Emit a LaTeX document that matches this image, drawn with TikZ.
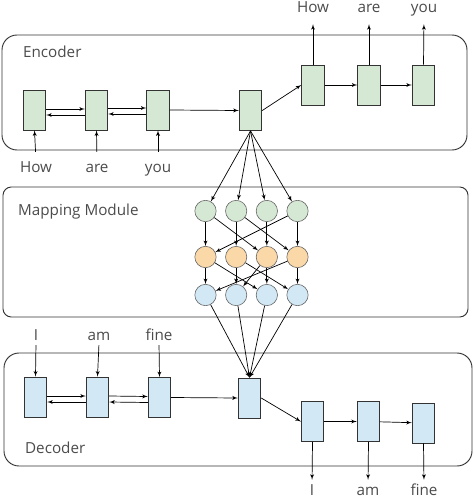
\documentclass[tikz,border=0pt]{standalone}
\usepackage{fontspec}
\setmainfont{Open Sans}
\usetikzlibrary{arrows}
\definecolor{encfill}{RGB}{213,232,212}
\definecolor{decfill}{RGB}{210,232,244}
\definecolor{midfill}{RGB}{250,216,168}
\definecolor{txt}{RGB}{75,75,75}
\tikzset{
		panel/.style={draw=black!80, line width=0.8pt},
		title/.style={anchor=west, text=txt, font=\fontsize{13}{15}\selectfont},
		word/.style={text=txt, font=\fontsize{13}{15}\selectfont, inner sep=0pt, text height=3.3mm, text depth=0.9mm, anchor=base},
		cell/.style={draw=black!80, line width=0.7pt, minimum width=6.8mm, minimum height=12mm, inner sep=0pt},
		enccell/.style={cell, fill=encfill},
		deccell/.style={cell, fill=decfill},
		unit/.style={circle, draw=black!60, line width=0.5pt, minimum size=6.4mm, inner sep=0pt},
		link/.style={->, line width=0.6pt}
	}
\begin{document}
\begin{tikzpicture}[x=0.3mm, y=-0.3mm, >=latex', node distance=9.2mm]
	\useasboundingbox (0,0) rectangle (474,497);

	% panels
	\draw[panel, rounded corners=4.5mm] (2,35) rectangle (467,150);
	\draw[panel, rounded corners=2.5mm] (3,187) rectangle (468,317);
	\draw[panel, rounded corners=4.5mm] (4,353) rectangle (472,466);
	\node[title] (enctitle) at (19,52)  {Encoder};
	\node[title] (maptitle) at (14,212) {Mapping Module};
	\node[title] (dectitle) at (21,448) {Decoder};

	% encoder
	\node[enccell] (e1) at (34.5,110) {};
	\node[enccell] (e2) at (96.5,110) {};
	\node[enccell] (e3) at (158,110)  {};
	\node[enccell] (e4) at (250.5,110.5) {};
	\node[enccell] (e5) at (313,85) {};
	\node[enccell] (e6) at (369,85) {};
	\node[enccell] (e7) at (423.5,85) {};

	\node[word] (ein1) at (36,172)  {How};
	\node[word] (ein2) at (97,172)  {are};
	\node[word] (ein3) at (158,172) {you};
	\node[word] (eout1) at (313,13) {How};
	\node[word] (eout2) at (369,13) {are};
	\node[word] (eout3) at (424,13) {you};

	\draw[link, shorten <=2.7mm] (ein1.north) -- (e1.south);
	\draw[link, shorten <=2.7mm] (ein2.north) -- (e2.south);
	\draw[link, shorten <=2.7mm] (ein3.north) -- (e3.south);
	\draw[link, shorten >=2.4mm] (e5.north) -- (eout1.south);
	\draw[link, shorten >=2.4mm] (e6.north) -- (eout2.south);
	\draw[link, shorten >=2.4mm] (e7.north) -- (eout3.south);

	\draw[link] ([yshift=0.3mm]e1.east) -- ([yshift=0.3mm]e2.west);
	\draw[link] ([yshift=-1.5mm]e2.west) -- ([yshift=-1.5mm]e1.east);
	\draw[link] ([yshift=0.6mm]e2.east) -- ([yshift=0.6mm]e3.west);
	\draw[link] ([yshift=-1.2mm]e3.west) -- ([yshift=-1.2mm]e2.east);
	\draw[link] (e3.east) -- (e4.west);
	\draw[link] (e4.east) -- (e5.west);
	\draw[link] (e5) -- (e6);
	\draw[link] (e6) -- (e7);

	% decoder
	\node[deccell] (d1) at (35.5,397) {};
	\node[deccell] (d2) at (97.5,397) {};
	\node[deccell] (d3) at (159.5,397.5) {};
	\node[deccell] (d4) at (249.5,398) {};
	\node[deccell] (d5) at (312.5,421.5) {};
	\node[deccell] (d6) at (368.5,421.5) {};
	\node[deccell] (d7) at (423.5,423) {};

	\node[word] (din1) at (36,340)  {I};
	\node[word] (din2) at (99,340)  {am};
	\node[word] (din3) at (159,340) {fine};
	\node[word] (dout1) at (312,495) {I};
	\node[word] (dout2) at (368,495) {am};
	\node[word] (dout3) at (424,495) {fine};

	\draw[link, shorten <=0.6mm] (din1.south) -- (d1.north);
	\draw[link, shorten <=0.6mm] (din2.south) -- (d2.north);
	\draw[link, shorten <=0.6mm] (din3.south) -- (d3.north);
	\draw[link, shorten >=1.2mm] (d5.south) -- (dout1.north);
	\draw[link, shorten >=1.2mm] (d6.south) -- (dout2.north);
	\draw[link, shorten >=1.2mm] (d7.south) -- (dout3.north);

	\draw[link] ([yshift=0.3mm]d1.east) -- ([yshift=0.3mm]d2.west);
	\draw[link] ([yshift=-1.5mm]d2.west) -- ([yshift=-1.5mm]d1.east);
	\draw[link] ([yshift=0.3mm]d2.east) -- ([yshift=0.3mm]d3.west);
	\draw[link] ([yshift=-1.5mm]d3.west) -- ([yshift=-1.5mm]d2.east);
	\draw[link] (d3.east) -- (d4.west);
	\draw[link] (d4.east) -- (d5.west);
	\draw[link] (d5) -- (d6);
	\draw[link] (d6) -- (d7);

	% mapping module
	\node[unit, fill=encfill] (g1) at (205.5,211) {};
	\node[unit, fill=encfill, right of=g1] (g2) {};
	\node[unit, fill=encfill, right of=g2] (g3) {};
	\node[unit, fill=encfill, right of=g3] (g4) {};
	\node[unit, fill=midfill, below of=g1, node distance=13.8mm] (o1) {};
	\node[unit, fill=midfill, right of=o1] (o2) {};
	\node[unit, fill=midfill, right of=o2] (o3) {};
	\node[unit, fill=midfill, right of=o3] (o4) {};
	\node[unit, fill=decfill, below of=o1, node distance=11.4mm] (b1) {};
	\node[unit, fill=decfill, right of=b1] (b2) {};
	\node[unit, fill=decfill, right of=b2] (b3) {};
	\node[unit, fill=decfill, right of=b3] (b4) {};

	\foreach \i in {1,...,4} {
		\draw[link] (e4.south) -- (g\i);
		\draw[link] (g\i) -- (o\i);
		\draw[link] (o\i) -- (b\i);
		\draw[link] (b\i) -- (d4.north);
	}
	\draw[link] (g1) -- (o3);
	\draw[link] (g2) -- (o4);
	\draw[link] (g4) -- (o1);
	\draw[link] (o1) -- (b3);
	\draw[link] (o2) -- (b4);
	\draw[link] (o3) -- (b2);
	\draw[link] (o4) -- (b1);
\end{tikzpicture}
\end{document}
